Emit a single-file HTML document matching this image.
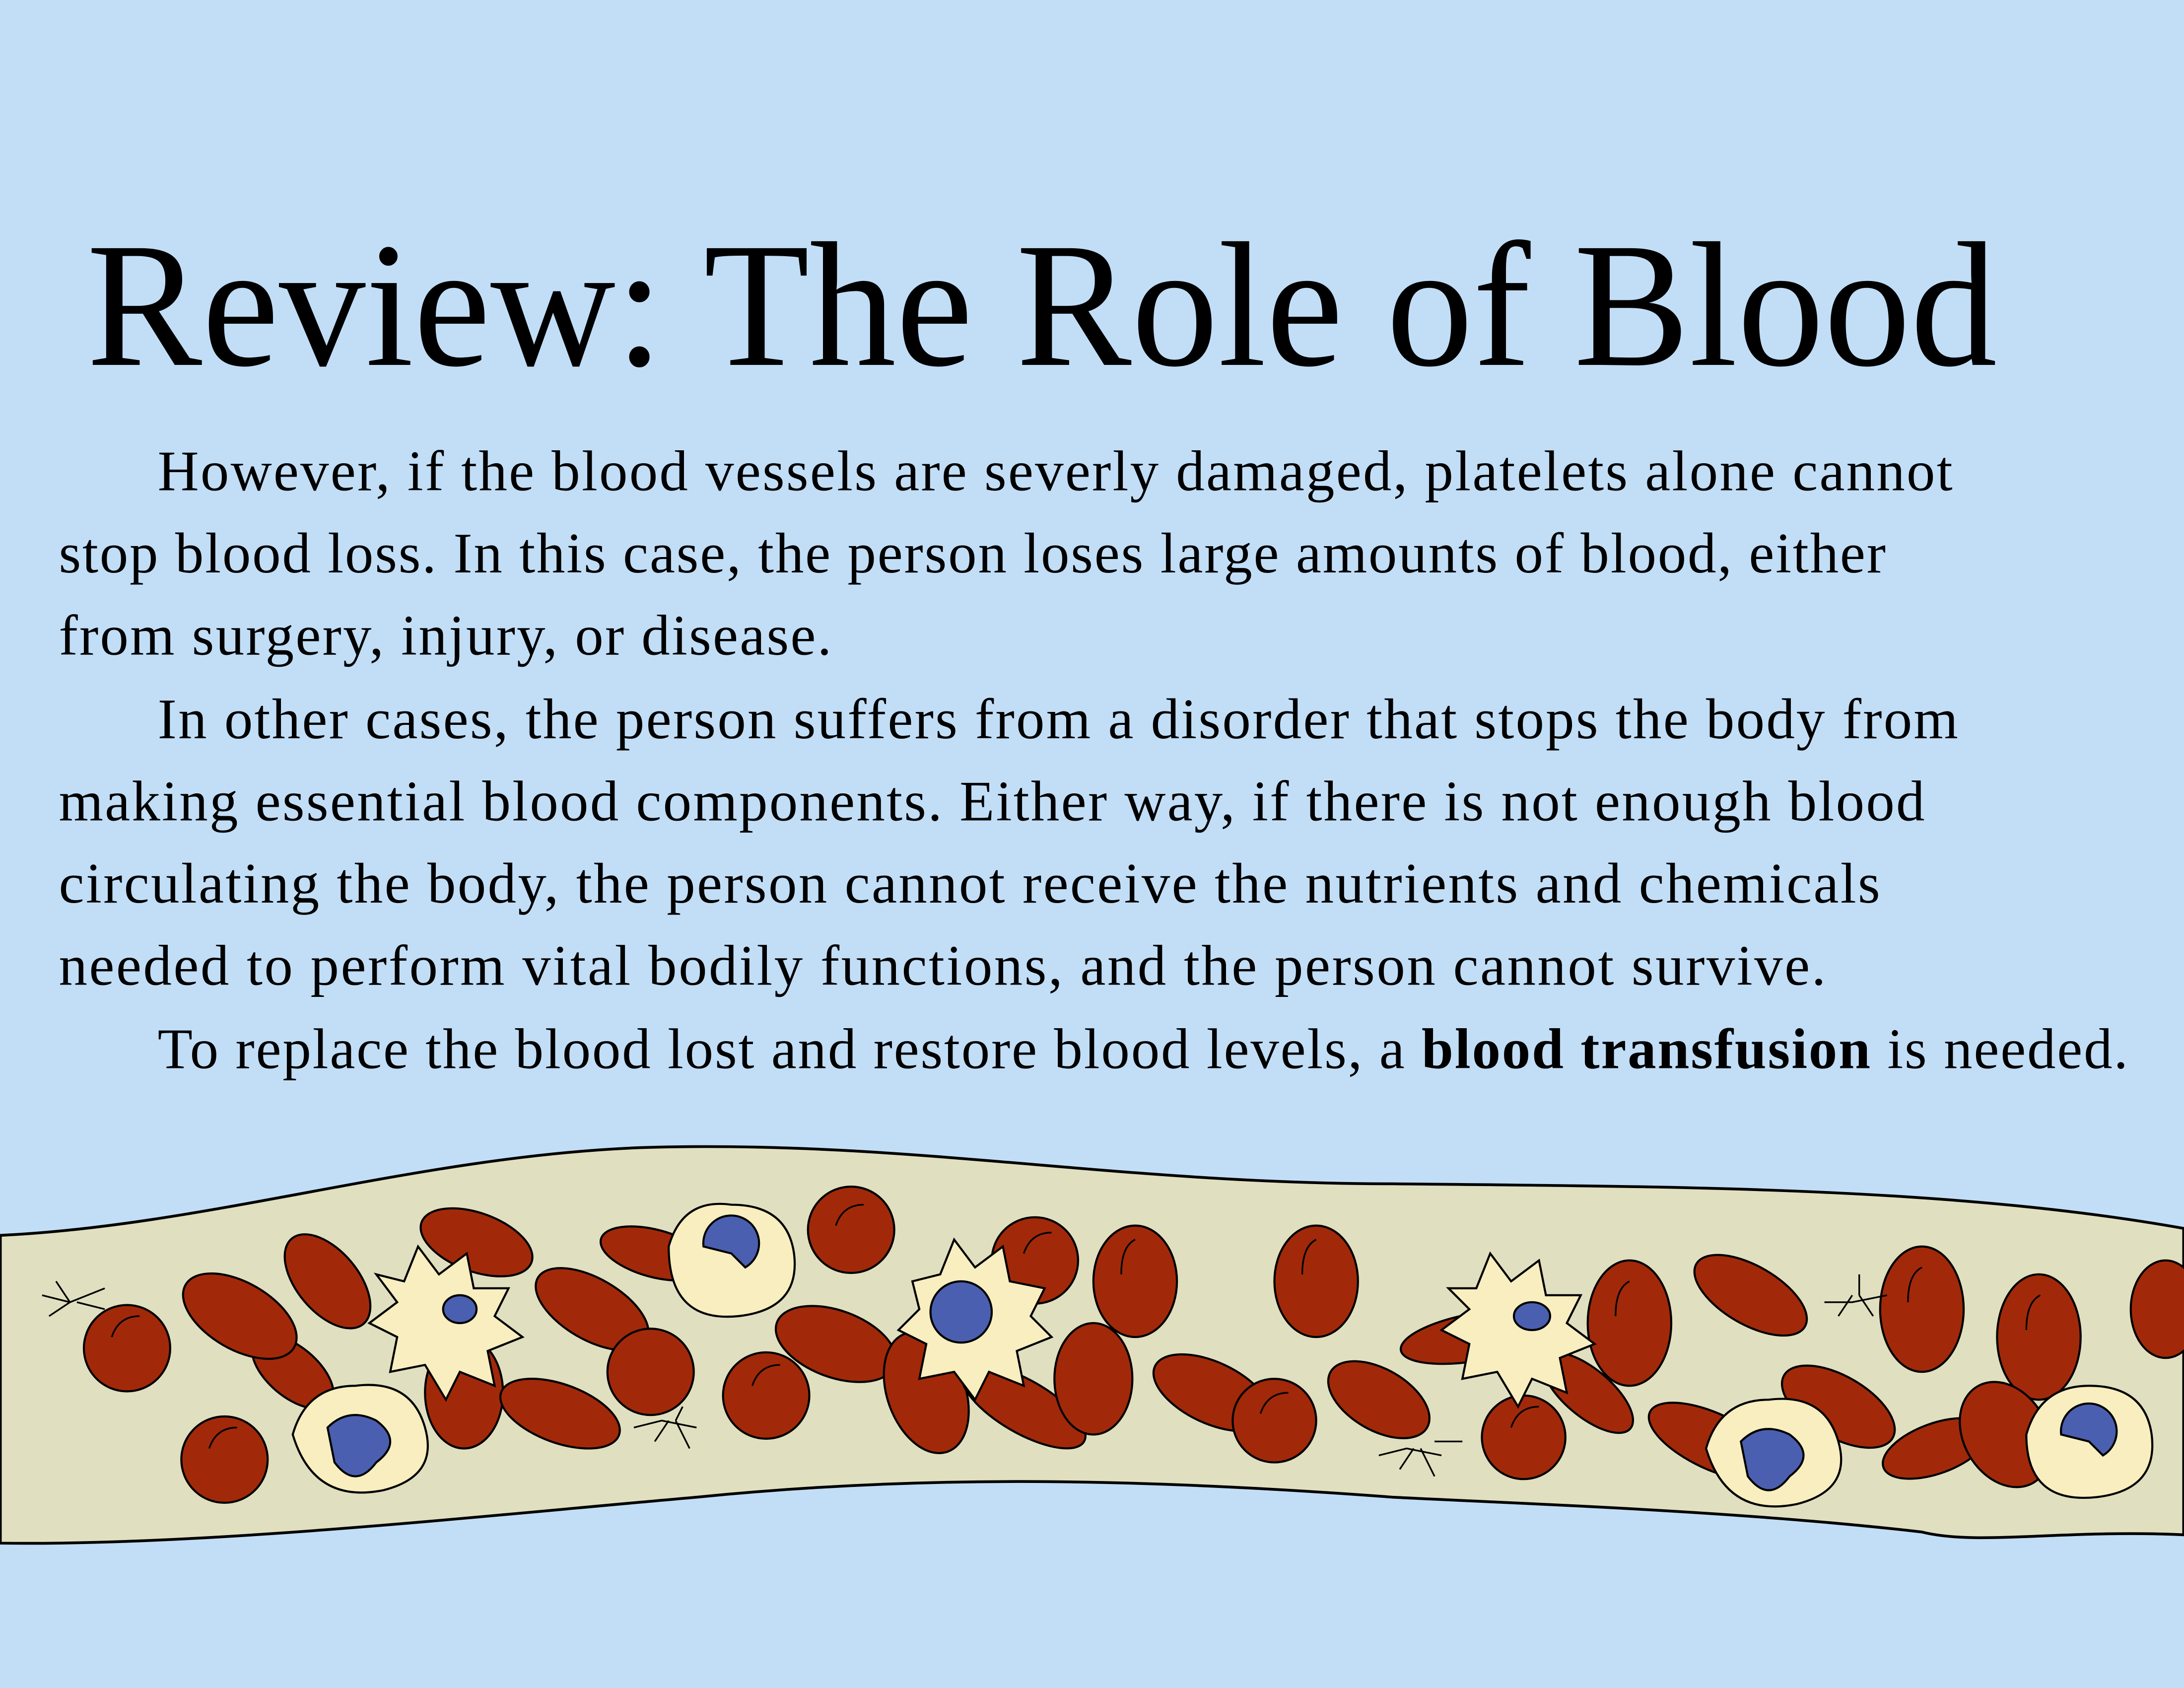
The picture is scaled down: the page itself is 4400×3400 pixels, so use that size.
<!DOCTYPE html>
<html><head><meta charset="utf-8"><style>
html,body{margin:0;padding:0;background:#c2def7;}
svg{display:block;}
</style></head><body>
<svg width="4400" height="3400" viewBox="0 0 1568 1212" xmlns="http://www.w3.org/2000/svg">
<rect width="1568" height="1212" fill="#c2def7"/>
<text x="62" y="262" font-family="Liberation Serif, serif" font-size="128" textLength="1372" lengthAdjust="spacingAndGlyphs" fill="#000">Review: The Role of Blood</text>
<g font-family="Liberation Serif, serif" font-size="41" fill="#000" lengthAdjust="spacingAndGlyphs">
<text x="113" y="352" textLength="1289">However, if the blood vessels are severly damaged, platelets alone cannot</text>
<text x="42" y="411" textLength="1312">stop blood loss. In this case, the person loses large amounts of blood, either</text>
<text x="42" y="470" textLength="555">from surgery, injury, or disease.</text>
<text x="113" y="530" textLength="1293">In other cases, the person suffers from a disorder that stops the body from</text>
<text x="42" y="589" textLength="1340">making essential blood components. Either way, if there is not enough blood</text>
<text x="42" y="648" textLength="1308">circulating the body, the person cannot receive the nutrients and chemicals</text>
<text x="42" y="707" textLength="1269">needed to perform vital bodily functions, and the person cannot survive.</text>
<text x="113" y="767" textLength="1415">To replace the blood lost and restore blood levels, a <tspan font-weight="bold">blood transfusion</tspan> is needed.</text>
</g>
<path d="M0,887 C150,880 300,830 460,824 C650,818 800,850 1000,850 C1200,852 1400,852 1568,882 L1568,1102 C1480,1098 1420,1110 1380,1100 C1250,1085 1100,1080 1000,1075 C800,1060 650,1060 500,1075 C350,1088 150,1110 0,1108 Z" fill="#e0e0c0" stroke="#000" stroke-width="2"/>
<g fill="#a1290a" stroke="#000" stroke-width="1.5">
<ellipse cx="210" cy="985" rx="35" ry="18" transform="rotate(40 210 985)"/>
<ellipse cx="172" cy="945" rx="45" ry="24" transform="rotate(30 172 945)"/>
<circle cx="91" cy="968" r="31"/>
<circle cx="161" cy="1048" r="31"/>
<ellipse cx="235" cy="920" rx="40" ry="22" transform="rotate(50 235 920)"/>
<ellipse cx="342" cy="892" rx="42" ry="21" transform="rotate(20 342 892)"/>
<ellipse cx="333" cy="1000" rx="28" ry="40"/>
<ellipse cx="402" cy="1015" rx="45" ry="21" transform="rotate(20 402 1015)"/>
<ellipse cx="425" cy="940" rx="45" ry="22" transform="rotate(30 425 940)"/>
<ellipse cx="470" cy="900" rx="40" ry="17" transform="rotate(15 470 900)"/>
<circle cx="467" cy="985" r="31"/>
<circle cx="550" cy="1002" r="31"/>
<circle cx="611" cy="883" r="31"/>
<ellipse cx="600" cy="965" rx="45" ry="24" transform="rotate(20 600 965)"/>
<ellipse cx="665" cy="1000" rx="28" ry="45" transform="rotate(-20 665 1000)"/>
<circle cx="743" cy="905" r="31"/>
<ellipse cx="735" cy="1010" rx="50" ry="19" transform="rotate(30 735 1010)"/>
<ellipse cx="785" cy="990" rx="28" ry="40"/>
<ellipse cx="815" cy="920" rx="30" ry="40"/>
<ellipse cx="870" cy="1000" rx="45" ry="22" transform="rotate(25 870 1000)"/>
<circle cx="915" cy="1020" r="30"/>
<ellipse cx="945" cy="920" rx="30" ry="40"/>
<ellipse cx="990" cy="1005" rx="40" ry="22" transform="rotate(30 990 1005)"/>
<circle cx="1094" cy="1032" r="30"/>
<ellipse cx="1060" cy="960" rx="55" ry="17" transform="rotate(-10 1060 960)"/>
<ellipse cx="1140" cy="1000" rx="40" ry="17" transform="rotate(40 1140 1000)"/>
<ellipse cx="1170" cy="950" rx="30" ry="45"/>
<ellipse cx="1257" cy="930" rx="45" ry="21" transform="rotate(30 1257 930)"/>
<ellipse cx="1230" cy="1035" rx="50" ry="20" transform="rotate(25 1230 1035)"/>
<ellipse cx="1320" cy="1010" rx="45" ry="22" transform="rotate(30 1320 1010)"/>
<ellipse cx="1380" cy="940" rx="30" ry="45"/>
<ellipse cx="1390" cy="1040" rx="40" ry="18" transform="rotate(-20 1390 1040)"/>
<ellipse cx="1464" cy="960" rx="30" ry="45"/>
<ellipse cx="1440" cy="1030" rx="30" ry="40" transform="rotate(-30 1440 1030)"/>
<ellipse cx="1555" cy="940" rx="25" ry="35"/>
</g>
<g fill="none" stroke="#000" stroke-width="1.2">
<path d="M80,960 q5,-15 20,-15"/><path d="M150,1040 q5,-15 20,-15"/><path d="M540,995 q5,-15 20,-15"/><path d="M600,880 q5,-15 20,-15"/><path d="M735,900 q5,-15 20,-15"/><path d="M905,1015 q5,-15 20,-15"/><path d="M1085,1025 q5,-15 20,-15"/><path d="M805,915 q0,-20 10,-25"/><path d="M935,915 q0,-20 10,-25"/><path d="M1160,945 q0,-20 10,-25"/><path d="M1455,955 q0,-20 10,-25"/><path d="M1370,935 q0,-20 10,-25"/>
</g>
<g stroke="#000" stroke-width="1.5">
<path d="M210,1030 q10,-35 45,-35 q40,-5 50,30 q10,35 -30,45 q-50,10 -65,-40Z" fill="#f8eebf"/>
<path d="M235,1025 q15,-15 35,-5 q20,15 0,30 q-15,20 -30,0 z" fill="#4b5fb0"/>
<path d="M480,895 q10,-35 45,-30 q40,0 45,35 q5,40 -40,45 q-50,5 -50,-50Z" fill="#f8eebf"/>
<path d="M505,895 a20,20 0 1 1 30,15 l-10,-10 z" fill="#4b5fb0"/>
<path d="M1225,1040 q10,-35 45,-35 q40,-5 50,30 q10,35 -30,45 q-50,10 -65,-40Z" fill="#f8eebf"/>
<path d="M1250,1035 q15,-15 35,-5 q20,15 0,30 q-15,20 -30,0 z" fill="#4b5fb0"/>
<path d="M1455,1030 q10,-35 45,-35 q40,0 45,35 q5,40 -40,45 q-50,5 -50,-45Z" fill="#f8eebf"/>
<path d="M1480,1030 a20,20 0 1 1 30,15 l-10,-10 z" fill="#4b5fb0"/>
<path d="M270,915 l20,5 l10,-25 l15,20 l20,-15 l5,25 l25,0 l-10,20 l20,15 l-25,10 l5,25 l-25,-10 l-10,20 l-15,-25 l-25,5 l5,-25 l-20,-10 l20,-15z" fill="#f8eebf"/>
<ellipse cx="330" cy="940" rx="12" ry="10" fill="#4b5fb0"/>
<path d="M655,920 l20,-5 l10,-25 l15,20 l20,-15 l5,25 l25,5 l-10,20 l15,15 l-25,10 l5,25 l-25,-10 l-10,20 l-15,-20 l-25,5 l5,-25 l-20,-10 l15,-15z" fill="#f8eebf"/>
<ellipse cx="690" cy="942" rx="22" ry="22" fill="#4b5fb0"/>
<path d="M1040,925 l20,0 l10,-25 l15,20 l20,-15 l5,25 l25,0 l-10,20 l20,15 l-25,10 l5,25 l-25,-10 l-10,20 l-15,-25 l-25,5 l5,-25 l-20,-10 l20,-15z" fill="#f8eebf"/>
<ellipse cx="1100" cy="945" rx="13" ry="10" fill="#4b5fb0"/>
</g>
<g fill="none" stroke="#000" stroke-width="1.2">
<path d="M30,930 l20,5 l25,-10 M40,920 l10,15 M35,945 l15,-10 M75,940 l-20,-5"/>
<path d="M455,1025 l20,-5 l25,5 M470,1035 l10,-15 M495,1040 l-10,-20 M490,1010 l-5,10"/>
<path d="M990,1045 l20,-5 l25,5 M1005,1055 l10,-15 M1030,1060 l-10,-20 M1050,1035 l-20,0"/>
<path d="M1310,935 l20,0 l25,-5 M1320,945 l10,-15 M1345,945 l-10,-15 M1335,915 l0,15"/>
</g>
</svg>
</body></html>
